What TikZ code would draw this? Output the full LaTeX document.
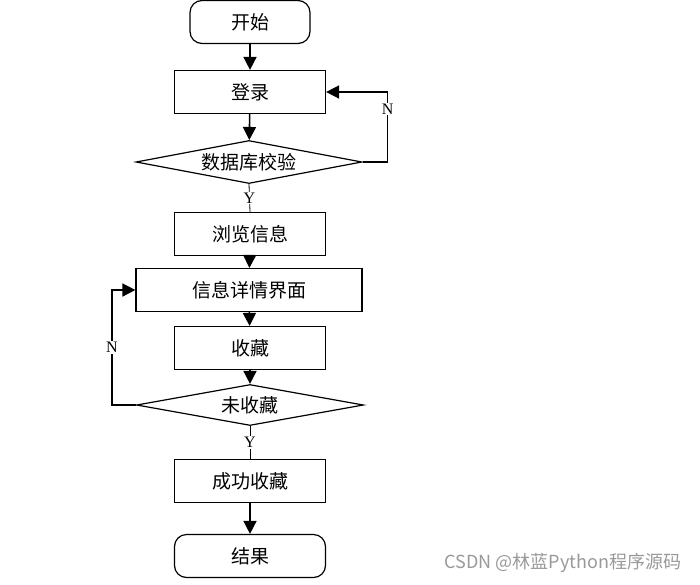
\documentclass[tikz,border=0pt]{standalone}
\usepackage{fontspec}
\setmainfont{Liberation Serif}
\newfontfamily\cjk{Noto Sans CJK SC}
\usetikzlibrary{shapes.geometric,arrows.meta}
\tikzset{
  proc/.style={draw, rectangle, minimum width=151pt, minimum height=43pt, inner sep=0pt,
    line width=1.2pt, font=\cjk\fontsize{19}{21}\selectfont},
  term/.style={proc, rounded corners=12pt},
  decide/.style={draw, diamond, shape aspect=5.2, minimum width=226pt, minimum height=43pt,
    inner sep=0pt, line width=1.2pt, font=\cjk\fontsize{19}{21}\selectfont},
  yn/.style={fill=white, inner sep=1pt, font=\fontsize{16}{18}\selectfont}
}
\begin{document}
\begin{tikzpicture}[x=1pt, y=-1pt, >={Triangle[length=13pt,width=13pt]}, line width=1.6pt]
    \useasboundingbox (0,0) rectangle (700,584);
    % boxes, top to bottom
    \node[term, minimum width=120pt] (start) at (250,22) {开始};
    \node[proc] (login) at (250,92) {登录};
    \node[decide] (check) at (249,162) {数据库校验};
    \node[proc] (browse) at (250,234) {浏览信息};
    \node[proc, minimum width=226pt] (detail) at (249,290) {信息详情界面};
    \node[proc] (fav) at (250,348) {收藏};
    \node[decide, minimum width=227pt, minimum height=41pt] (notfav) at (250,405) {未收藏};
    \node[proc] (done) at (250,481) {成功收藏};
    \node[term] (finish) at (250,556) {结果};

    % main flow
    \draw[->] (start) -- (login);
    \draw[->] (login) -- (check);
    \draw[line width=0.8pt] (check.south) -- node[yn] {Y} (browse.north);
    \draw[->] (browse) -- (detail);
    \draw[->] (detail) -- (fav);
    \draw[->] (fav) -- (notfav);
    \draw[line width=0.8pt] (notfav.south) -- node[yn] {Y} (done.north);
    \draw[->] (done) -- (finish);

    % loops back
    \draw[->] (check.east) -- ++(25,0) |- node[yn, pos=0.38] {N} (login.east);
    \draw[->] (notfav.west) -- ++(-24,0) |- node[yn, pos=0.25] {N} (detail.west);

    % watermark
    \node[gray!80, font=\cjk\fontsize{18}{20}\selectfont] (mark) at (563,563) {CSDN @林蓝Python程序源码};
\end{tikzpicture}
\end{document}
